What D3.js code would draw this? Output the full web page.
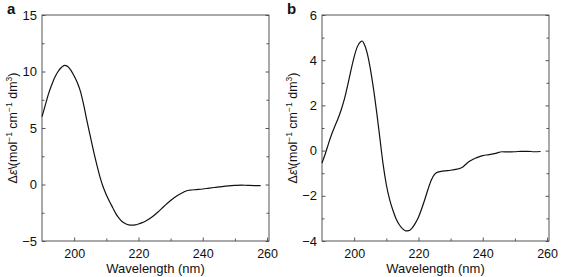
<!DOCTYPE html>
<html><head><meta charset="utf-8">
<script src="https://cdn.jsdelivr.net/npm/d3@7"></script>
<style>body{margin:0;background:#fff}svg{display:block}text{font-family:"Liberation Sans",Arial,Helvetica,sans-serif;fill:#111}</style>
</head><body><svg id="c" width="563" height="277"></svg>
<script>
const wavelengthA = [190,191,192,193,194,195,196,197,198,199,200,201,202,203,204,205,206,207,208,209,210,211,212,213,214,215,216,217,218,219,220,221,222,224,226,228,230,232,234,235,236,238,240,242,244,246,248,250,252,254,256,258];
const cdA = [6.0,7.0,8.0,8.8,9.5,10.0,10.35,10.55,10.45,10.1,9.6,9.0,8.2,7.0,5.6,4.3,3.0,1.8,0.7,-0.2,-0.9,-1.5,-2.05,-2.6,-3.0,-3.3,-3.48,-3.58,-3.6,-3.58,-3.5,-3.4,-3.27,-2.92,-2.45,-1.92,-1.42,-1.0,-0.68,-0.55,-0.5,-0.45,-0.4,-0.32,-0.25,-0.18,-0.12,-0.08,-0.05,-0.08,-0.1,-0.1];
const wavelengthB = [190,191,192,193,194,195,196,197,198,199,200,201,202,202.5,203,204,205,206,207,208,209,210,211,212,213,214,215,216,217,218,219,220,221,222,223,224,225,226,228,230,232,233,234,235,236,237,238,240,242,244,246,248,250,252,254,256,258];
const cdB = [-0.55,-0.15,0.3,0.72,1.08,1.42,1.82,2.3,2.9,3.55,4.15,4.6,4.82,4.85,4.75,4.35,3.65,2.75,1.7,0.55,-0.6,-1.5,-2.15,-2.62,-3.0,-3.27,-3.45,-3.55,-3.54,-3.43,-3.22,-2.95,-2.57,-2.15,-1.7,-1.3,-1.05,-0.95,-0.9,-0.87,-0.82,-0.78,-0.7,-0.57,-0.46,-0.38,-0.32,-0.22,-0.18,-0.12,-0.05,-0.06,-0.05,-0.03,-0.03,-0.05,-0.04];
const xTicks = [200,220,240,260];
const xMinor = [210,230,250];
const yTicksA = [-5,0,5,10,15];
const yMinorA = [-2.5,2.5,7.5,12.5];
const yTicksB = [-4,-2,0,2,4,6];
const yMinorB = [-3,-1,1,3,5];
const panelLabels = ["a","b"];
const xTitle = "Wavelength (nm)";

const svg = d3.select("#c");
const fmt = d => (d < 0 ? "\u2212" + Math.abs(d) : String(d));

function panel(opts){
  const {left,right,top,bottom,xs,ys,yDomain,yTicks,yMinor,label} = opts;
  const x = d3.scaleLinear().domain([190,260.6]).range([left,right]);
  const y = d3.scaleLinear().domain(yDomain).range([bottom,top]);
  const g = svg.append("g");
  const tl = 3.5, tm = 2.5;
  const ax = g.append("g").attr("transform",`translate(0,${bottom})`)
    .call(d3.axisBottom(x).tickValues(xTicks).tickSize(-tl).tickPadding(8).tickFormat(fmt));
  ax.select(".domain").remove();
  ax.selectAll("text").attr("font-size",12.5).attr("dy","0.72em");
  ax.selectAll("line").attr("stroke","#555");
  g.append("g").attr("transform",`translate(0,${bottom})`)
    .call(d3.axisBottom(x).tickValues(xMinor).tickSize(-tm).tickFormat(""))
    .call(s=>{s.select(".domain").remove();s.selectAll("line").attr("stroke","#555");});
  const ay = g.append("g").attr("transform",`translate(${left},0)`)
    .call(d3.axisLeft(y).tickValues(yTicks).tickSize(-tl).tickPadding(5).tickFormat(fmt));
  ay.select(".domain").remove();
  ay.selectAll("text").attr("font-size",13);
  ay.selectAll("line").attr("stroke","#555");
  g.append("g").attr("transform",`translate(${left},0)`)
    .call(d3.axisLeft(y).tickValues(yMinor).tickSize(-tm).tickFormat(""))
    .call(s=>{s.select(".domain").remove();s.selectAll("line").attr("stroke","#555");});
  g.append("g").attr("transform",`translate(${right},0)`)
    .call(d3.axisRight(y).tickValues(yTicks).tickSize(-tl).tickFormat(""))
    .call(s=>{s.select(".domain").remove();s.selectAll("line").attr("stroke","#555");});
  g.append("g").attr("transform",`translate(${right},0)`)
    .call(d3.axisRight(y).tickValues(yMinor).tickSize(-tm).tickFormat(""))
    .call(s=>{s.select(".domain").remove();s.selectAll("line").attr("stroke","#555");});
  g.append("rect").attr("x",left).attr("y",top).attr("width",right-left).attr("height",bottom-top)
    .attr("fill","none").attr("stroke","#555").attr("stroke-width",1);
  const data = xs.map((d,i)=>[d,ys[i]]);
  g.append("path").datum(data)
    .attr("d",d3.line().x(d=>x(d[0])).y(d=>y(d[1])).curve(d3.curveMonotoneX))
    .attr("fill","none").attr("stroke","#111").attr("stroke-width",1.2);
  g.append("text").attr("x",(left+right)/2).attr("y",273).attr("text-anchor","middle")
    .attr("font-size",13).text(xTitle);
  const yt = g.append("text").attr("transform",`translate(${left-25},${(top+bottom)/2}) rotate(-90)`)
    .attr("text-anchor","middle").attr("font-size",12.5);
  yt.append("tspan").text("\u0394");
  yt.append("tspan").attr("font-style","italic").text("\u03b5");
  yt.append("tspan").text("\\(mol");
  yt.append("tspan").attr("font-size",8.5).attr("dy",-5).text("\u22121");
  yt.append("tspan").attr("dy",5).text(" cm");
  yt.append("tspan").attr("font-size",8.5).attr("dy",-5).text("\u22121");
  yt.append("tspan").attr("dy",5).text(" dm");
  yt.append("tspan").attr("font-size",8.5).attr("dy",-5).text("3");
  yt.append("tspan").attr("dy",5).text(")");
  g.append("text").attr("x",left-35).attr("y",14).attr("font-size",15).attr("font-weight","bold").text(label);
}

panel({left:42,right:269,top:15,bottom:241,xs:wavelengthA,ys:cdA,yDomain:[-5,15],yTicks:yTicksA,yMinor:yMinorA,label:panelLabels[0]});
panel({left:322,right:549,top:15,bottom:241,xs:wavelengthB,ys:cdB,yDomain:[-4,6],yTicks:yTicksB,yMinor:yMinorB,label:panelLabels[1]});
</script></body></html>
